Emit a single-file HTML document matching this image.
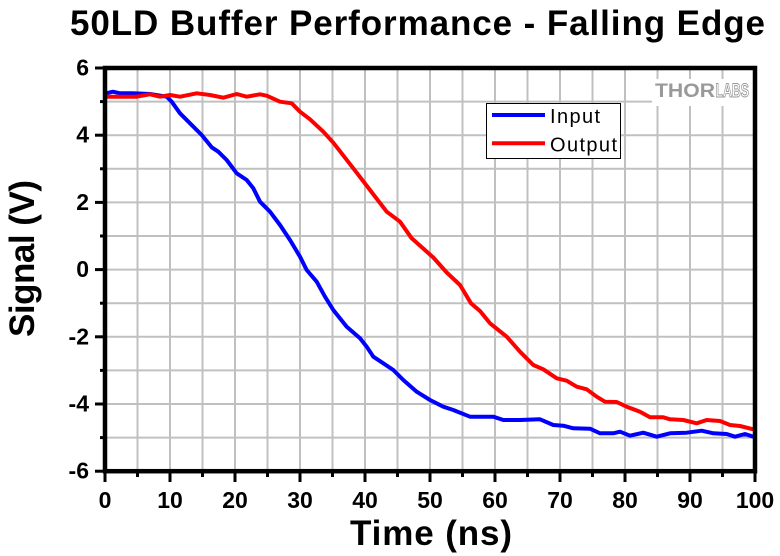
<!DOCTYPE html>
<html>
<head>
<meta charset="utf-8">
<style>
  html, body { margin:0; padding:0; background:#fff; }
  svg { display:block; }
  text { font-family: "Liberation Sans", Arial, sans-serif; }
</style>
</head>
<body>
<svg width="780" height="556" viewBox="0 0 780 556" xmlns="http://www.w3.org/2000/svg">
  <rect x="0" y="0" width="780" height="556" fill="#fff"/>

  <!-- Title -->
  <text x="70" y="35" font-size="35" font-weight="bold" fill="#000" textLength="695" lengthAdjust="spacing">50LD Buffer Performance - Falling Edge</text>

  <!-- Grid -->
  <g stroke="#c0c0c0" stroke-width="2">
    <line x1="137.5" y1="68" x2="137.5" y2="471"/>
    <line x1="170" y1="68" x2="170" y2="471"/>
    <line x1="202.5" y1="68" x2="202.5" y2="471"/>
    <line x1="235" y1="68" x2="235" y2="471"/>
    <line x1="267.5" y1="68" x2="267.5" y2="471"/>
    <line x1="300" y1="68" x2="300" y2="471"/>
    <line x1="332.5" y1="68" x2="332.5" y2="471"/>
    <line x1="365" y1="68" x2="365" y2="471"/>
    <line x1="397.5" y1="68" x2="397.5" y2="471"/>
    <line x1="430" y1="68" x2="430" y2="471"/>
    <line x1="462.5" y1="68" x2="462.5" y2="471"/>
    <line x1="495" y1="68" x2="495" y2="471"/>
    <line x1="527.5" y1="68" x2="527.5" y2="471"/>
    <line x1="560" y1="68" x2="560" y2="471"/>
    <line x1="592.5" y1="68" x2="592.5" y2="471"/>
    <line x1="625" y1="68" x2="625" y2="471"/>
    <line x1="657.5" y1="68" x2="657.5" y2="471"/>
    <line x1="690" y1="68" x2="690" y2="471"/>
    <line x1="722.5" y1="68" x2="722.5" y2="471"/>
    <line x1="105" y1="101.6" x2="755" y2="101.6"/>
    <line x1="105" y1="135.2" x2="755" y2="135.2"/>
    <line x1="105" y1="168.8" x2="755" y2="168.8"/>
    <line x1="105" y1="202.4" x2="755" y2="202.4"/>
    <line x1="105" y1="236" x2="755" y2="236"/>
    <line x1="105" y1="269.6" x2="755" y2="269.6"/>
    <line x1="105" y1="303.2" x2="755" y2="303.2"/>
    <line x1="105" y1="336.8" x2="755" y2="336.8"/>
    <line x1="105" y1="370.4" x2="755" y2="370.4"/>
    <line x1="105" y1="404" x2="755" y2="404"/>
    <line x1="105" y1="437.6" x2="755" y2="437.6"/>
  </g>

  <!-- Logo -->
  <rect x="652" y="79" width="101" height="27" fill="#fff"/>
  <text x="655" y="97" font-size="19" font-weight="bold" fill="#999" textLength="60" lengthAdjust="spacingAndGlyphs">THOR</text>
  <text x="715.5" y="97" font-size="19" font-weight="bold" fill="#fff" stroke="#999" stroke-width="1" textLength="33.5" lengthAdjust="spacingAndGlyphs">LABS</text>

  <!-- Data -->
  <polyline fill="none" stroke="#0000ff" stroke-width="4" stroke-linejoin="round" points="106,93.3 113,91.7 120,93.3 133,93.3 150,94 166.7,96.7 171.7,101.7 180,113.3 190,123.3 201.7,135 211.7,147.3 218.3,151.7 226.7,160 236.7,173.3 246.7,180 253.3,188.3 260,201.7 270,211.7 280,225 290,240 300,256.7 306.7,270 316.7,281.7 325,296.7 333.3,310 346.7,326.7 360,338.3 366.7,346.7 373.3,356.7 383.3,363.3 393.3,370 403.3,380 416.7,391.7 430,400 443.3,406.7 453.3,410 470,416.7 480,416.7 493.3,416.7 503.3,420 520,420 540,419.3 553.3,425 563.3,425.7 573.3,428.3 590,428.7 600,433.3 613.3,433.3 620,431.7 630,435.7 643.3,432.7 656.7,436.7 670,433.3 686.7,432.7 701.7,430.7 713.3,433.3 726.7,434 735,436.7 745,434 753.3,436.7"/>
  <polyline fill="none" stroke="#ff0000" stroke-width="4" stroke-linejoin="round" points="106,96.7 136.7,96.7 150,94.3 160,96.7 170,95 180,96.7 196.7,93.3 210,95 223.3,97.7 236.7,94 246.7,96.7 260,94.3 266.7,95.7 280,101.7 291.7,103.3 300,111.7 310,119.3 323.3,131.7 333.3,142.7 353.3,168.3 370,190 386.7,211.7 400,221.7 411.7,238.3 433.3,257.5 446.7,272.5 460,285 471,303.3 480,311 490,323.3 506.7,336.7 520,351.7 533.3,365 543.3,369.3 556.7,378.3 566.7,380.7 576.7,386.7 586.7,389.3 596.7,396.7 605,401.7 616.7,402 626.7,406.7 640,411.7 650,417.3 663.3,417.3 670,419.3 683.3,420 696.7,423.3 706.7,420 720,421 730,425 740,426 753.3,429.3"/>

  <!-- Legend -->
  <rect x="486.5" y="103.5" width="134" height="55" fill="#fff" stroke="#000" stroke-width="1"/>
  <line x1="492" y1="115" x2="545" y2="115" stroke="#0000ff" stroke-width="4"/>
  <line x1="492" y1="143.3" x2="545" y2="143.3" stroke="#ff0000" stroke-width="4"/>
  <text x="550" y="123" font-size="20" fill="#000" textLength="50" lengthAdjust="spacing">Input</text>
  <text x="550" y="151.5" font-size="20" fill="#000" textLength="67" lengthAdjust="spacing">Output</text>

  <!-- Axes frame -->
  <rect x="105" y="68" width="650" height="403.2" fill="none" stroke="#000" stroke-width="4.5"/>

  <!-- Ticks -->
  <g stroke="#000" stroke-width="3">
    <line x1="105" y1="471" x2="105" y2="482"/>
    <line x1="170" y1="471" x2="170" y2="482"/>
    <line x1="235" y1="471" x2="235" y2="482"/>
    <line x1="300" y1="471" x2="300" y2="482"/>
    <line x1="365" y1="471" x2="365" y2="482"/>
    <line x1="430" y1="471" x2="430" y2="482"/>
    <line x1="495" y1="471" x2="495" y2="482"/>
    <line x1="560" y1="471" x2="560" y2="482"/>
    <line x1="625" y1="471" x2="625" y2="482"/>
    <line x1="690" y1="471" x2="690" y2="482"/>
    <line x1="755" y1="471" x2="755" y2="482"/>
    <line x1="137.5" y1="471" x2="137.5" y2="477"/>
    <line x1="202.5" y1="471" x2="202.5" y2="477"/>
    <line x1="267.5" y1="471" x2="267.5" y2="477"/>
    <line x1="332.5" y1="471" x2="332.5" y2="477"/>
    <line x1="397.5" y1="471" x2="397.5" y2="477"/>
    <line x1="462.5" y1="471" x2="462.5" y2="477"/>
    <line x1="527.5" y1="471" x2="527.5" y2="477"/>
    <line x1="592.5" y1="471" x2="592.5" y2="477"/>
    <line x1="657.5" y1="471" x2="657.5" y2="477"/>
    <line x1="722.5" y1="471" x2="722.5" y2="477"/>

    <line x1="95" y1="68" x2="105" y2="68"/>
    <line x1="95" y1="135.2" x2="105" y2="135.2"/>
    <line x1="95" y1="202.4" x2="105" y2="202.4"/>
    <line x1="95" y1="269.6" x2="105" y2="269.6"/>
    <line x1="95" y1="336.8" x2="105" y2="336.8"/>
    <line x1="95" y1="404" x2="105" y2="404"/>
    <line x1="95" y1="471.2" x2="105" y2="471.2"/>
    <line x1="100" y1="101.6" x2="105" y2="101.6"/>
    <line x1="100" y1="168.8" x2="105" y2="168.8"/>
    <line x1="100" y1="236" x2="105" y2="236"/>
    <line x1="100" y1="303.2" x2="105" y2="303.2"/>
    <line x1="100" y1="370.4" x2="105" y2="370.4"/>
    <line x1="100" y1="437.6" x2="105" y2="437.6"/>
  </g>

  <!-- Y tick labels -->
  <g font-size="23" font-weight="bold" fill="#000" text-anchor="end">
    <text x="89" y="75.5">6</text>
    <text x="89" y="142.7">4</text>
    <text x="89" y="209.9">2</text>
    <text x="89" y="277.1">0</text>
    <text x="89" y="344.3">-2</text>
    <text x="89" y="411.5">-4</text>
    <text x="89" y="478.7">-6</text>
  </g>

  <!-- X tick labels -->
  <g font-size="23" font-weight="bold" fill="#000" text-anchor="middle">
    <text x="105" y="508">0</text>
    <text x="170" y="508">10</text>
    <text x="235" y="508">20</text>
    <text x="300" y="508">30</text>
    <text x="365" y="508">40</text>
    <text x="430" y="508">50</text>
    <text x="495" y="508">60</text>
    <text x="560" y="508">70</text>
    <text x="625" y="508">80</text>
    <text x="690" y="508">90</text>
    <text x="755" y="508">100</text>
  </g>

  <!-- Axis titles -->
  <text x="350" y="545" font-size="35" font-weight="bold" fill="#000" textLength="162" lengthAdjust="spacing">Time (ns)</text>
  <text transform="translate(34,258.5) rotate(-90)" x="0" y="0" font-size="35" font-weight="bold" fill="#000" text-anchor="middle" textLength="157" lengthAdjust="spacing">Signal (V)</text>
</svg>
</body>
</html>
